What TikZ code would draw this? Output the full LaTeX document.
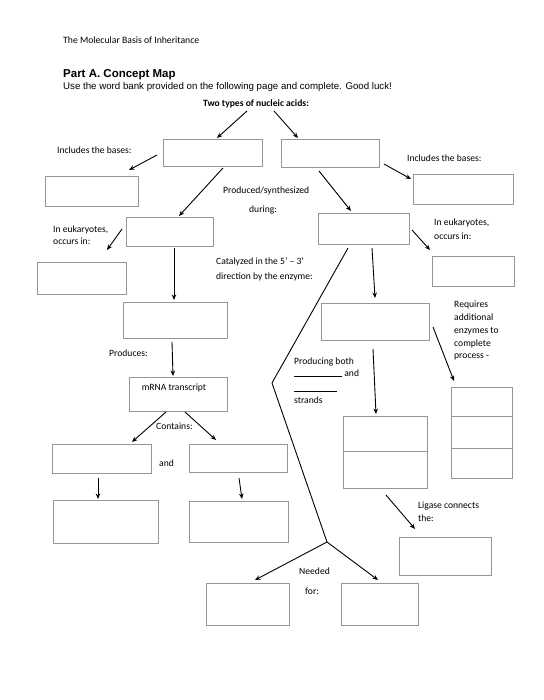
\documentclass[tikz,border=0pt]{standalone}
\usepackage{fontspec}
\setmainfont{Carlito}
\newfontfamily\arialf{Liberation Sans}
\usetikzlibrary{arrows.meta}
\definecolor{boxgray}{RGB}{150,150,150}
\begin{document}
\begin{tikzpicture}[x=1pt,y=-1pt,
  box/.style={draw=boxgray,line width=0.9pt,inner sep=0pt,anchor=north west},
  arr/.style={line width=0.9pt,-{Stealth[length=5.5pt,width=4.5pt]}},
  lbl/.style={anchor=base west,inner sep=0pt,font=\fontsize{9.6}{11}\selectfont},
  lblc/.style={anchor=base,inner sep=0pt,font=\fontsize{9.6}{11}\selectfont}]
\useasboundingbox[fill=white] (0,0) rectangle (543,700);
% headings
\node[lbl,font=\fontsize{9.7}{11}\selectfont] (title) at (63,44) {The Molecular Basis of Inheritance};
\node[lbl,font=\arialf\bfseries\fontsize{11.5}{13}\selectfont] (parta) at (63,78) {Part A. Concept Map};
\node[lbl,font=\arialf\fontsize{9.7}{11}\selectfont] (use) at (63,90) {Use the word bank provided on the following page and complete. Good luck!};
\node[lblc,font=\bfseries\fontsize{9.6}{11}\selectfont] (two) at (256,107) {Two types of nucleic acids:};
% boxes
\node[box,minimum width=99pt,minimum height=27pt] (dna) at (163,139) {};
\node[box,minimum width=98pt,minimum height=28pt] (rna) at (281,139) {};
\node[box,minimum width=93pt,minimum height=30pt] (lbases) at (45,176) {};
\node[box,minimum width=100pt,minimum height=30pt] (rbases) at (413,174) {};
\node[box,minimum width=87pt,minimum height=29pt] (lmid) at (126,217) {};
\node[box,minimum width=91pt,minimum height=31pt] (rmid) at (318,213) {};
\node[box,minimum width=89pt,minimum height=32pt] (leuk) at (37,262) {};
\node[box,minimum width=82pt,minimum height=30pt] (reuk) at (432,256) {};
\node[box,minimum width=104pt,minimum height=36pt] (lenz) at (123,302) {};
\node[box,minimum width=98pt,minimum height=34pt] (mrna) at (129,377) {};
\node[box,minimum width=99pt,minimum height=29pt] (contl) at (52,444) {};
\node[box,minimum width=98pt,minimum height=28pt] (contr) at (189,444) {};
\node[box,minimum width=105pt,minimum height=43pt] (botl) at (53,500) {};
\node[box,minimum width=99pt,minimum height=41pt] (botr) at (189,501) {};
\node[box,minimum width=108pt,minimum height=37pt] (renz) at (321,303) {};
\node[box,minimum width=84pt,minimum height=35pt] (dbla) at (343,416) {};
\node[box,minimum width=84pt,minimum height=37pt] (dblb) at (343,451) {};
\node[box,minimum width=61pt,minimum height=29pt] (tria) at (451,387) {};
\node[box,minimum width=61pt,minimum height=32pt] (trib) at (451,416) {};
\node[box,minimum width=61pt,minimum height=30pt] (tric) at (451,448) {};
\node[box,minimum width=92pt,minimum height=38pt] (lig) at (399,537) {};
\node[box,minimum width=83pt,minimum height=42pt] (needl) at (206,583) {};
\node[box,minimum width=77pt,minimum height=42pt] (needr) at (341,583) {};
% labels
\node[lblc] (mrnatxt) at (174,390) {mRNA transcript};
\node[lbl] (inclL) at (57,154) {Includes the bases:};
\node[lbl] (inclR) at (407,162) {Includes the bases:};
\node[lbl] (prod) at (223,194) {Produced/synthesized};
\node[lbl] (during) at (249,213) {during:};
\node[lbl] (eukL1) at (53,233) {In eukaryotes,};
\node[lbl] (eukL2) at (53,244) {occurs in:};
\node[lbl] (eukR1) at (434,226) {In eukaryotes,};
\node[lbl] (eukR2) at (434,240) {occurs in:};
\node[lbl] (cat1) at (216,265) {Catalyzed in the 5\textquoteright\ \textendash\ 3\textquoteright};
\node[lbl] (cat2) at (216,279) {direction by the enzyme:};
\node[lbl] (req1) at (454,307) {Requires};
\node[lbl] (req2) at (454,320) {additional};
\node[lbl] (req3) at (454,333) {enzymes to};
\node[lbl] (req4) at (454,346) {complete};
\node[lbl] (req5) at (454,358) {process -};
\node[lbl] (pb1) at (294,364) {Producing both};
\node[lbl] (pb2) at (294,376) {\rule[-0.5pt]{48pt}{0.5pt} and};
\node[lbl] (pb3) at (294,391) {\rule[-0.5pt]{43pt}{0.5pt}};
\node[lbl] (pb4) at (294,403) {strands};
\node[lbl] (produces) at (109,356) {Produces:};
\node[lbl] (contains) at (156,429) {Contains:};
\node[lbl] (and) at (159,466) {and};
\node[lbl] (lig1) at (418,508) {Ligase connects};
\node[lbl] (lig2) at (418,521) {the:};
\node[lbl] (need1) at (299,574) {Needed};
\node[lbl] (need2) at (305,594) {for:};
% connector end points
\coordinate (t1) at (247,111); \coordinate (t1e) at (217,138);
\coordinate (t2) at (274,111); \coordinate (t2e) at (298,138);
\coordinate (a1) at (157,155); \coordinate (a1e) at (129,170);
\coordinate (a2) at (384,164); \coordinate (a2e) at (411,179);
\coordinate (a3) at (223,168); \coordinate (a3e) at (179,216);
\coordinate (a4) at (319,171); \coordinate (a4e) at (351,211);
\coordinate (a5) at (122,229); \coordinate (a5e) at (107,250);
\coordinate (a6) at (412,230); \coordinate (a6e) at (430,250);
\coordinate (a7) at (174,248); \coordinate (a7e) at (174,300);
\coordinate (a8) at (372,248); \coordinate (a8e) at (375,298);
\coordinate (a9) at (172,342); \coordinate (a9e) at (173,376);
\coordinate (a10) at (166,412); \coordinate (a10e) at (132,442);
\coordinate (a11) at (185,412); \coordinate (a11e) at (216,440);
\coordinate (a12) at (98,478); \coordinate (a12e) at (98,499);
\coordinate (a13) at (239,478); \coordinate (a13e) at (242,499);
\coordinate (a14) at (373,349); \coordinate (a14e) at (376,414);
\coordinate (a15) at (433,327); \coordinate (a15e) at (454,381);
\coordinate (a16) at (386,495); \coordinate (a16e) at (415,529);
\coordinate (l0) at (348,248); \coordinate (lk) at (272,383); \coordinate (split) at (327,542);
\coordinate (n1e) at (255,580); \coordinate (n2e) at (378,580);
% connectors
\draw[arr] (t1) -- (t1e);
\draw[arr] (t2) -- (t2e);
\draw[arr] (a1) -- (a1e);
\draw[arr] (a2) -- (a2e);
\draw[arr] (a3) -- (a3e);
\draw[arr] (a4) -- (a4e);
\draw[arr] (a5) -- (a5e);
\draw[arr] (a6) -- (a6e);
\draw[arr] (a7) -- (a7e);
\draw[arr] (a8) -- (a8e);
\draw[arr] (a9) -- (a9e);
\draw[arr] (a10) -- (a10e);
\draw[arr] (a11) -- (a11e);
\draw[arr] (a12) -- (a12e);
\draw[arr] (a13) -- (a13e);
\draw[arr] (a14) -- (a14e);
\draw[arr] (a15) -- (a15e);
\draw[arr] (a16) -- (a16e);
\draw[line width=0.9pt] (l0) -- (lk) -- (split);
\draw[arr] (split) -- (n1e);
\draw[arr] (split) -- (n2e);
\end{tikzpicture}
\end{document}
